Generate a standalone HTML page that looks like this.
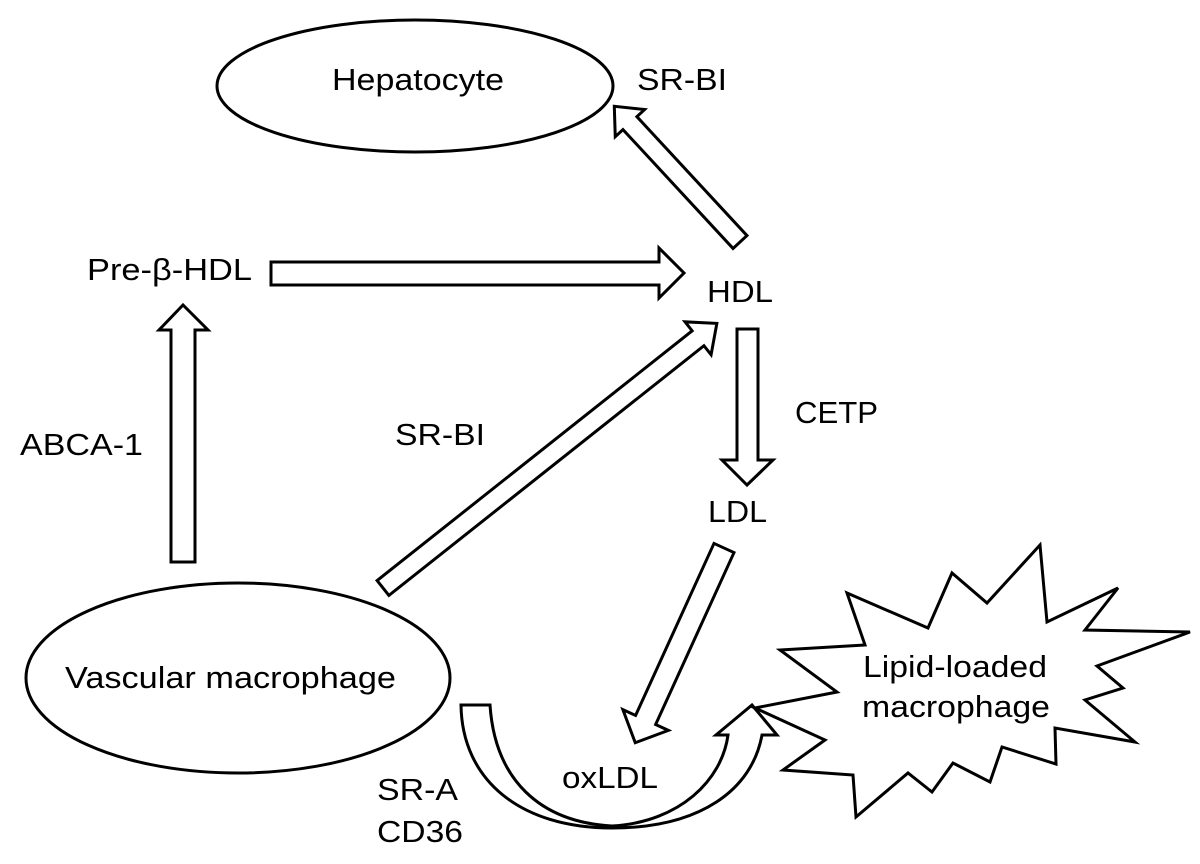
<!DOCTYPE html>
<html><head><meta charset="utf-8"><style>
html,body{margin:0;padding:0;background:#fff;}
svg{display:block;}
text{font-family:"Liberation Sans",Arial,sans-serif;font-size:31px;fill:#000;}
</style></head><body>
<svg width="1200" height="864" viewBox="0 0 1200 864" xmlns="http://www.w3.org/2000/svg">
<g fill="#fff" stroke="#000" stroke-width="3" stroke-linejoin="miter">
<ellipse cx="415" cy="86" rx="198" ry="66"/>
<ellipse cx="238" cy="678" rx="212" ry="95"/>
<polygon points="271,262 659,262 659,248 684,273 659,298 659,285 271,285"/>
<polygon points="171,562 171,330 159,330 183,305 208,330 195,330 195,562"/>
<polygon points="737,329 758,329 758,460 773,460 747,485 722,460 737,460"/>
<polygon transform="translate(383,588) rotate(-38.4)" points="0,-9.5 402,-9.5 402,-21 426,0 402,21 402,9.5 0,9.5"/>
<polygon transform="translate(740,242) rotate(-132.8)" points="0,-9.5 162,-9.5 162,-20 185,0 162,20 162,9.5 0,9.5"/>
<polygon transform="translate(724,548) rotate(114.5)" points="0,-11 189,-11 189,-25 214,0 189,25 189,11 0,11"/>
<path d="M461,705 L490,705 C495,780 540,822 612,826 C680,822 722,780 728,735 L716,735 L752,705 L777,735 L762,735 C752,790 700,828 612,828 C520,828 462,780 461,705 Z"/>
<polygon points="755,708 837,692 780,650 865,645 847,593 928,628 952,573 987,603 1040,545 1047,622 1118,588 1085,630 1190,632 1097,666 1123,688 1085,700 1135,742 1055,728 1056,764 1002,747 990,782 953,763 932,792 908,773 856,817 853,775 783,770 825,740"/>
</g>
<text x="332" y="90" textLength="172" lengthAdjust="spacingAndGlyphs">Hepatocyte</text>
<text x="637" y="90" textLength="90" lengthAdjust="spacingAndGlyphs">SR-BI</text>
<text x="87" y="280" textLength="165" lengthAdjust="spacingAndGlyphs">Pre-β-HDL</text>
<text x="707" y="302" textLength="66" lengthAdjust="spacingAndGlyphs">HDL</text>
<text x="20" y="455" textLength="123" lengthAdjust="spacingAndGlyphs">ABCA-1</text>
<text x="395" y="445" textLength="90" lengthAdjust="spacingAndGlyphs">SR-BI</text>
<text x="795" y="423" textLength="83" lengthAdjust="spacingAndGlyphs">CETP</text>
<text x="708" y="522" textLength="59" lengthAdjust="spacingAndGlyphs">LDL</text>
<text x="65" y="688" textLength="331" lengthAdjust="spacingAndGlyphs">Vascular macrophage</text>
<text x="562" y="788" textLength="96" lengthAdjust="spacingAndGlyphs">oxLDL</text>
<text x="377" y="800" textLength="81" lengthAdjust="spacingAndGlyphs">SR-A</text>
<text x="377" y="842" textLength="86" lengthAdjust="spacingAndGlyphs">CD36</text>
<text x="863" y="677" textLength="184" lengthAdjust="spacingAndGlyphs">Lipid-loaded</text>
<text x="862" y="717" textLength="188" lengthAdjust="spacingAndGlyphs">macrophage</text>
</svg>
</body></html>
